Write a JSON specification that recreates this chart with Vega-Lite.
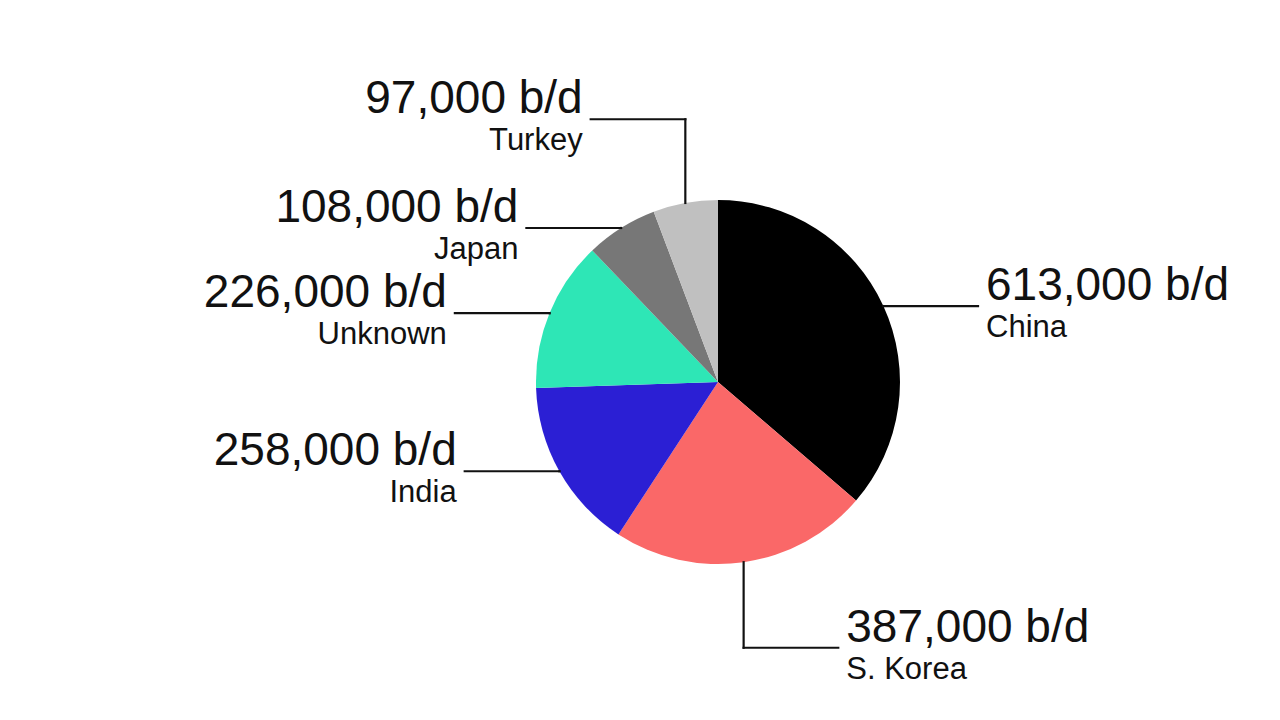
{
  "$schema": "https://vega.github.io/schema/vega-lite/v6.json",
  "width": 1280,
  "height": 720,
  "autosize": {"type": "fit", "contains": "padding"},
  "padding": 0,
  "background": "#ffffff",
  "config": {"view": {"stroke": null}},
  "data": {
    "values": [
      {"country": "China", "value": 613000, "rank": 1},
      {"country": "S. Korea", "value": 387000, "rank": 2},
      {"country": "India", "value": 258000, "rank": 3},
      {"country": "Unknown", "value": 226000, "rank": 4},
      {"country": "Japan", "value": 108000, "rank": 5},
      {"country": "Turkey", "value": 97000, "rank": 6}
    ]
  },
  "transform": [
    {"joinaggregate": [{"op": "sum", "field": "value", "as": "total"}]},
    {"window": [{"op": "sum", "field": "value", "as": "cum"}], "sort": [{"field": "rank", "order": "ascending"}], "frame": [null, 0]},
    {"calculate": "(datum.cum - datum.value / 2) / datum.total * 2 * PI", "as": "mid"},
    {"calculate": "sin(datum.mid)", "as": "ex"},
    {"calculate": "cos(datum.mid)", "as": "ey"},
    {"calculate": "abs(datum.ey) > 0.9", "as": "vert"},
    {"calculate": "datum.ex >= 0 ? 1 : -1", "as": "dir"},
    {"calculate": "datum.vert ? datum.ey + (datum.ey > 0 ? 0.46 : -0.47) : datum.ey", "as": "by"},
    {"calculate": "datum.ex + datum.dir * 0.52", "as": "tx"},
    {"calculate": "format(datum.value, ',') + ' b/d'", "as": "label"}
  ],
  "layer": [
    {
      "mark": {"type": "arc", "outerRadius": 182, "stroke": null},
      "encoding": {
        "x": {"datum": 0, "type": "quantitative", "scale": {"domain": [-3.945, 3.088], "nice": false, "zero": false}, "axis": null},
        "y": {"datum": 0, "type": "quantitative", "scale": {"domain": [-1.857, 2.099], "nice": false, "zero": false}, "axis": null},
        "theta": {"field": "value", "type": "quantitative", "stack": true},
        "order": {"field": "rank", "type": "quantitative"},
        "color": {
          "field": "country",
          "type": "nominal",
          "scale": {
            "domain": ["China", "S. Korea", "India", "Unknown", "Japan", "Turkey"],
            "range": ["#000000", "#fa6868", "#2b1fd4", "#2ee6b6", "#777777", "#c0c0c0"]
          },
          "legend": null
        }
      }
    },
    {
      "mark": {"type": "rule", "color": "#111111", "strokeWidth": 2.2, "strokeCap": "square"},
      "encoding": {
        "x": {"field": "ex", "type": "quantitative", "scale": {"domain": [-3.945, 3.088], "nice": false, "zero": false}, "axis": null},
        "y": {"field": "ey", "type": "quantitative", "scale": {"domain": [-1.857, 2.099], "nice": false, "zero": false}, "axis": null},
        "x2": {"field": "ex"},
        "y2": {"field": "by"}
      }
    },
    {
      "mark": {"type": "rule", "color": "#111111", "strokeWidth": 2.2, "strokeCap": "square"},
      "encoding": {
        "x": {"field": "ex", "type": "quantitative", "scale": {"domain": [-3.945, 3.088], "nice": false, "zero": false}, "axis": null},
        "y": {"field": "by", "type": "quantitative", "scale": {"domain": [-1.857, 2.099], "nice": false, "zero": false}, "axis": null},
        "x2": {"field": "tx"},
        "y2": {"field": "by"}
      }
    },
    {
      "transform": [{"filter": "datum.dir > 0"}],
      "mark": {"type": "text", "align": "left", "baseline": "alphabetic", "dx": 8, "dy": -6, "font": "Liberation Sans", "fontSize": 46, "color": "#111111"},
      "encoding": {
        "x": {"field": "tx", "type": "quantitative", "scale": {"domain": [-3.945, 3.088], "nice": false, "zero": false}, "axis": null},
        "y": {"field": "by", "type": "quantitative", "scale": {"domain": [-1.857, 2.099], "nice": false, "zero": false}, "axis": null},
        "text": {"field": "label"}
      }
    },
    {
      "transform": [{"filter": "datum.dir < 0"}],
      "mark": {"type": "text", "align": "right", "baseline": "alphabetic", "dx": -8, "dy": -6, "font": "Liberation Sans", "fontSize": 46, "color": "#111111"},
      "encoding": {
        "x": {"field": "tx", "type": "quantitative", "scale": {"domain": [-3.945, 3.088], "nice": false, "zero": false}, "axis": null},
        "y": {"field": "by", "type": "quantitative", "scale": {"domain": [-1.857, 2.099], "nice": false, "zero": false}, "axis": null},
        "text": {"field": "label"}
      }
    },
    {
      "transform": [{"filter": "datum.dir > 0"}],
      "mark": {"type": "text", "align": "left", "baseline": "alphabetic", "dx": 8, "dy": 31, "font": "Liberation Sans", "fontSize": 31, "color": "#111111"},
      "encoding": {
        "x": {"field": "tx", "type": "quantitative", "scale": {"domain": [-3.945, 3.088], "nice": false, "zero": false}, "axis": null},
        "y": {"field": "by", "type": "quantitative", "scale": {"domain": [-1.857, 2.099], "nice": false, "zero": false}, "axis": null},
        "text": {"field": "country"}
      }
    },
    {
      "transform": [{"filter": "datum.dir < 0"}],
      "mark": {"type": "text", "align": "right", "baseline": "alphabetic", "dx": -8, "dy": 31, "font": "Liberation Sans", "fontSize": 31, "color": "#111111"},
      "encoding": {
        "x": {"field": "tx", "type": "quantitative", "scale": {"domain": [-3.945, 3.088], "nice": false, "zero": false}, "axis": null},
        "y": {"field": "by", "type": "quantitative", "scale": {"domain": [-1.857, 2.099], "nice": false, "zero": false}, "axis": null},
        "text": {"field": "country"}
      }
    }
  ]
}
